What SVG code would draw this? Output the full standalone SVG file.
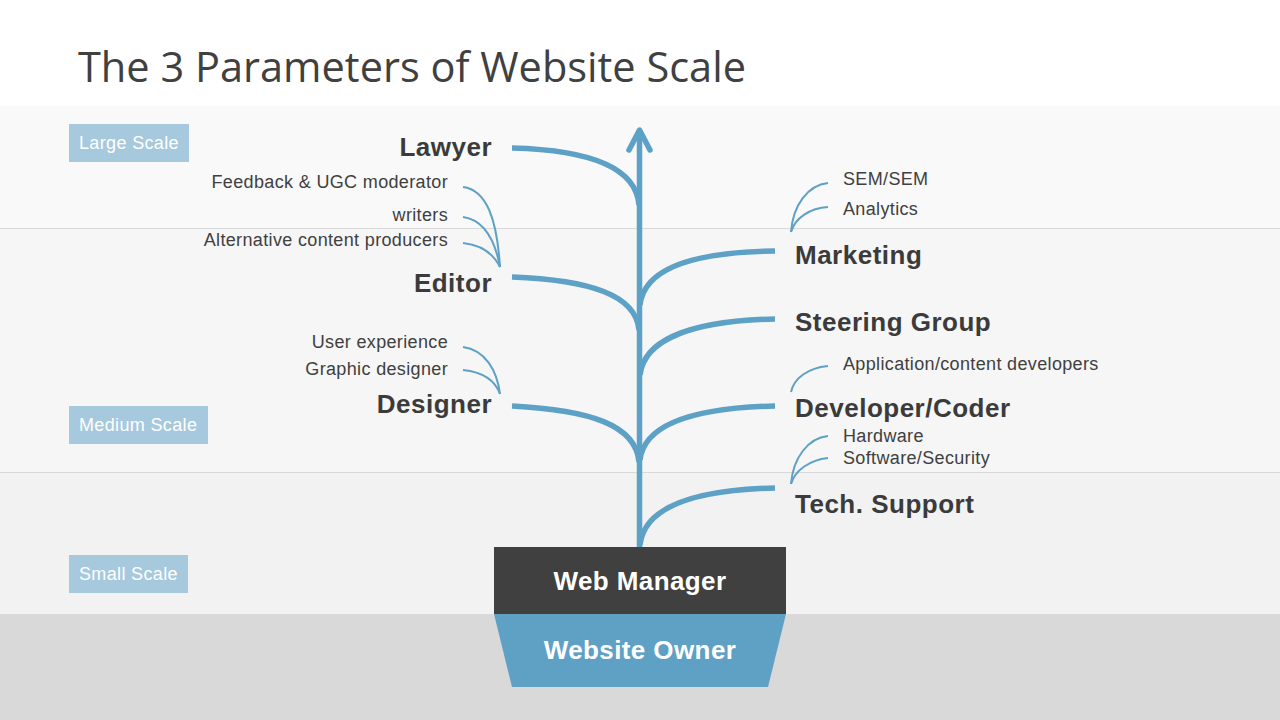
<svg xmlns="http://www.w3.org/2000/svg" width="1280" height="720" viewBox="0 0 1280 720">
<style>
.title{font-family:"Open Sans","Liberation Sans",sans-serif;font-size:42px;fill:#404040}
.big{font-family:"Liberation Sans",Arial,sans-serif;font-size:26px;font-weight:bold;fill:#3b3b3b;letter-spacing:0.5px}
.small{font-family:"Liberation Sans",Arial,sans-serif;font-size:18px;fill:#404040;letter-spacing:0.35px}
.scale{font-family:"Liberation Sans",Arial,sans-serif;font-size:18px;fill:#ffffff;letter-spacing:0.35px}
.boxt{font-family:"Liberation Sans",Arial,sans-serif;font-size:26px;font-weight:bold;fill:#ffffff;text-anchor:middle;letter-spacing:0.4px}
.br{fill:none;stroke:#5ea1c6;stroke-width:5.5;stroke-linecap:butt}
.tw{fill:none;stroke:#5ea1c6;stroke-width:2}
.sbox{fill:#a6c9de}
</style>
<rect x="0" y="0" width="1280" height="720" fill="#ffffff"/>
<rect x="0" y="106" width="1280" height="122" fill="#f9f9f9"/>
<rect x="0" y="228" width="1280" height="244" fill="#f6f6f6"/>
<rect x="0" y="472" width="1280" height="142" fill="#f2f2f2"/>
<rect x="0" y="614" width="1280" height="106" fill="#d9d9d9"/>
<line x1="0" y1="228.5" x2="1280" y2="228.5" stroke="#d9d9d9" stroke-width="1"/>
<line x1="0" y1="472.5" x2="1280" y2="472.5" stroke="#d9d9d9" stroke-width="1"/>
<text class="title" x="78" y="82" textLength="668" lengthAdjust="spacingAndGlyphs">The 3 Parameters of Website Scale</text>

<g id="scale-large"><rect class="sbox" x="69" y="124" width="120" height="38"/><text class="scale" x="79" y="149">Large Scale</text></g>
<g id="scale-medium"><rect class="sbox" x="69" y="406" width="139" height="38"/><text class="scale" x="79" y="431">Medium Scale</text></g>
<g id="scale-small"><rect class="sbox" x="69" y="555" width="119" height="38"/><text class="scale" x="79" y="580">Small Scale</text></g>

<g id="connectors">
<line class="br" x1="639.5" y1="132" x2="639.5" y2="548"/>
<polyline points="629,150 639.5,130 650,150" fill="none" stroke="#5ea1c6" stroke-width="5.5" stroke-linecap="round" stroke-linejoin="round"/>
<path class="br" d="M512,148 C590,150 636,168 639,205"/>
<path class="br" d="M512,277 C590,280 636,295 639,330"/>
<path class="br" d="M512,406 C590,410 636,425 639,462"/>
<path class="br" d="M775,251 C690,252 644,270 640,305"/>
<path class="br" d="M775,319 C690,321 644,340 640,375"/>
<path class="br" d="M775,406 C690,408 644,426 640,460"/>
<path class="br" d="M775,488 C690,490 644,508 640,545"/>
<path class="tw" d="M463,187 C487,190 497,220 500,267"/>
<path class="tw" d="M463,217 C484,220 495,240 500,267"/>
<path class="tw" d="M463,243 C482,245 494,255 500,267"/>
<path class="tw" d="M463,347 C485,350 497,370 500,394"/>
<path class="tw" d="M463,370 C482,372 495,380 500,394"/>
<path class="tw" d="M828,183 C808,185 793,205 791,232"/>
<path class="tw" d="M828,207 C810,208 795,218 791,232"/>
<path class="tw" d="M828,366 C808,368 794,378 791,392"/>
<path class="tw" d="M828,436 C808,438 793,458 791,484"/>
<path class="tw" d="M828,458 C810,460 795,470 791,484"/>
</g>

<g id="lawyer"><text class="big" x="492" y="156" text-anchor="end">Lawyer</text></g>
<g id="editor"><text class="big" x="492" y="292" text-anchor="end">Editor</text>
<text class="small" x="448" y="188" text-anchor="end">Feedback &amp; UGC moderator</text>
<text class="small" x="448" y="221" text-anchor="end">writers</text>
<text class="small" x="448" y="246" text-anchor="end">Alternative content producers</text></g>
<g id="designer"><text class="big" x="492" y="413" text-anchor="end">Designer</text>
<text class="small" x="448" y="348" text-anchor="end">User experience</text>
<text class="small" x="448" y="375" text-anchor="end">Graphic designer</text></g>
<g id="marketing"><text class="big" x="795" y="264">Marketing</text>
<text class="small" x="843" y="185">SEM/SEM</text>
<text class="small" x="843" y="215">Analytics</text></g>
<g id="steering"><text class="big" x="795" y="331">Steering Group</text></g>
<g id="developer"><text class="big" x="795" y="417">Developer/Coder</text>
<text class="small" x="843" y="370">Application/content developers</text></g>
<g id="techsupport"><text class="big" x="795" y="513">Tech. Support</text>
<text class="small" x="843" y="442">Hardware</text>
<text class="small" x="843" y="464">Software/Security</text></g>

<g id="web-manager"><rect x="494" y="547" width="292" height="67" fill="#404040"/><text class="boxt" x="640" y="590">Web Manager</text></g>
<g id="website-owner"><polygon points="494,614 786,614 768,687 512,687" fill="#5fa0c5"/><text class="boxt" x="640" y="659">Website Owner</text></g>
</svg>
